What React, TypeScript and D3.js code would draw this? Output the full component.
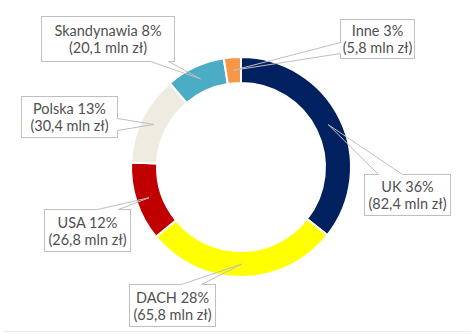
import React from "react";
import * as d3 from "d3";

const categories = ["UK", "DACH", "USA", "Polska", "Skandynawia", "Inne"];
const values = [82.4, 65.8, 26.8, 30.4, 20.1, 5.8];
const percents = [36, 28, 12, 13, 8, 3];
const colors = ["#002060", "#FFFF00", "#C00000", "#EEECE1", "#4BACC6", "#F79646"];

// label box layout: [x0, y0, x1, y1] and wedge base points
const boxes = [
  [364, 174, 450, 215],
  [129, 284, 215, 326],
  [44, 209, 130, 251],
  [21, 96, 117, 137],
  [41, 16, 174, 61],
  [340, 19, 414, 58],
];
const bases = [
  [[378, 174], [402, 174]],
  [[181, 284], [201, 284]],
  [[97, 209], [118, 209]],
  [[117, 118], [117, 130]],
  [[150, 61], [168, 61]],
  [[340, 42], [340, 53]],
];

const W = 474, H = 334;
const cx = 241, cy = 167, rOuter = 110, rInner = 84;

export default function App() {
  const pie = d3.pie<number>().sort(null).value((d) => d).startAngle(0).endAngle(2 * Math.PI);
  const arcs = pie(values);
  const arc = d3.arc<d3.PieArcDatum<number>>().innerRadius(rInner).outerRadius(rOuter);
  const fmt = (v: number) => v.toFixed(1).replace(".", ",");
  return (
    <svg width={W} height={H} style={{ position: "absolute", left: 0, top: 0 }} fontFamily="Lato, 'Open Sans', sans-serif">
      <rect width={W} height={H} fill="#fff" />
      <line x1={4} x2={470} y1={331.5} y2={331.5} stroke="#ececec" />
      <g transform={`translate(${cx},${cy})`}>
        {arcs.map((a, i) => (
          <path key={i} d={arc(a) || ""} fill={colors[i]} stroke="#fff" strokeWidth={2} />
        ))}
      </g>
      {arcs.map((a, i) => {
        const [tx, ty] = arc.centroid(a);
        const tip = [cx + tx, cy + ty];
        const [b0, b1] = bases[i];
        const [x0, y0, x1, y1] = boxes[i];
        const mx = (x0 + x1) / 2, my = (y0 + y1) / 2;
        return (
          <g key={i}>
            <rect x={x0 + 0.5} y={y0 + 0.5} width={x1 - x0} height={y1 - y0} fill="#fff" stroke="#BFBFBF" />
            <line x1={b0[0] + 0.5} y1={b0[1] + 0.5} x2={b1[0] + 0.5} y2={b1[1] + 0.5} stroke="#fff" strokeWidth={1.5} />
            <path d={`M${b0[0] + 0.5},${b0[1] + 0.5}L${tip[0]},${tip[1]}L${b1[0] + 0.5},${b1[1] + 0.5}`} fill="none" stroke="#BFBFBF" strokeWidth={1} />
            <text x={mx + 0.5} y={my - 8} textAnchor="middle" dominantBaseline="central" fontSize={14.5} fill="#505050">
              {`${categories[i]} ${percents[i]}%`}
            </text>
            <text x={mx + 0.5} y={my + 9} textAnchor="middle" dominantBaseline="central" fontSize={14.5} fill="#505050">
              {`(${fmt(values[i])} mln zł)`}
            </text>
          </g>
        );
      })}
    </svg>
  );
}
